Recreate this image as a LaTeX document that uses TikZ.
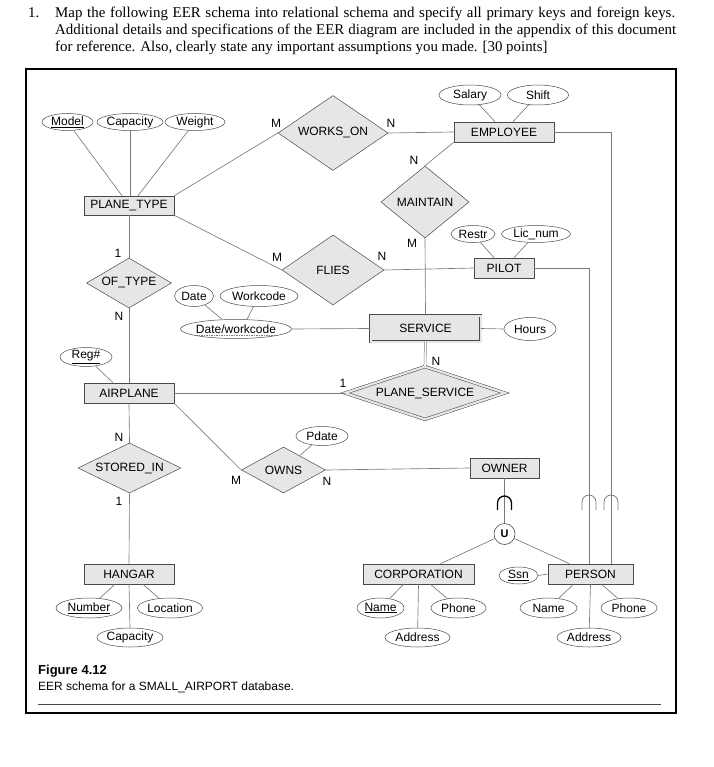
\documentclass[tikz,border=0pt]{standalone}
\usepackage{fontspec}
\setmainfont{Liberation Serif}
\newfontfamily\dia{Liberation Sans}
\usetikzlibrary{shapes.geometric}
\definecolor{lnc}{HTML}{7A7A7A}
\definecolor{bxc}{HTML}{4A4A4A}
\definecolor{fil}{HTML}{E6E6E6}
\newcommand{\zb}[1]{\makebox[0pt]{#1}}
\tikzset{
  every node/.style={font=\dia\fontsize{12}{14}\selectfont, inner sep=0pt},
  ent/.style={rectangle, draw=bxc, fill=fil, line width=0.6pt, minimum height=20pt},
  attr/.style={ellipse, draw=bxc, fill=white, line width=0.5pt},
  rel/.style={diamond, draw=bxc, fill=fil, line width=0.5pt},
  conn/.style={draw=lnc, line width=0.65pt},
  card/.style={font=\dia\fontsize{12}{14}\selectfont},
  subs/.style={draw=lnc, line width=0.8pt},
  hdr/.style={anchor=base west, font=\rmfamily\fontsize{14.9}{17}\selectfont},
}
\begin{document}
\begin{tikzpicture}[x=1pt,y=-1pt]
\useasboundingbox (0,0) rectangle (713,767);
% header
\node[hdr] (h0) at (28,18) {1.};
\node[hdr] (h1) at (55,18) {\makebox[620pt][s]{Map the following EER schema into relational schema and specify all primary keys and foreign keys.}};
\node[hdr] (h2) at (55,35) {\makebox[621pt][s]{Additional details and specifications of the EER diagram are included in the appendix of this document}};
\node[hdr] (h3) at (55,52) {for reference. Also, clearly state any important assumptions you made. [30 points]};
% frame
\draw[line width=1.2pt, black] (26,69) rectangle (676,713);
\draw[line width=0.8pt, bxc] (38,704) -- (661,704);
\node[anchor=base west, font=\dia\bfseries\fontsize{13}{14}\selectfont] (cap) at (38,674) {Figure 4.12};
\node[anchor=base west, font=\dia\fontsize{12}{14}\selectfont] (capt) at (38,690) {EER schema for a SMALL\_AIRPORT database.};

% entities
\node[ent, minimum width=90pt, minimum height=19pt] (pt) at (129,205.5) {\zb{PLANE\_TYPE}};
\node[ent, minimum width=100pt] (emp) at (504,132) {\zb{EMPLOYEE}};
\node[ent, minimum width=60pt] (pilot) at (504,268) {\zb{PILOT}};
\node[ent, minimum width=110pt, minimum height=26pt, double=fil, double distance=2pt, line width=0.5pt] (service) at (425.5,328.5) {\zb{SERVICE}};
\node[ent, minimum width=90pt] (airplane) at (129,393) {\zb{AIRPLANE}};
\node[ent, minimum width=90pt] (hangar) at (129,574) {\zb{HANGAR}};
\node[ent, minimum width=69pt] (owner) at (504.5,468) {\zb{OWNER}};
\node[ent, minimum width=111pt] (corp) at (418.5,574) {\zb{CORPORATION}};
\node[ent, minimum width=85pt] (person) at (590.5,574) {\zb{PERSON}};

% relationships
\node[rel, minimum width=110pt, minimum height=75pt] (works) at (333,133) {\zb{WORKS\_ON}};
\node[rel, minimum width=88pt, minimum height=72pt] (maintain) at (425,202) {\zb{MAINTAIN}};
\node[rel, minimum width=102pt, minimum height=70pt] (flies) at (333,270) {\zb{FLIES}};
\node[rel, minimum width=85pt, minimum height=50pt] (oftype) at (129,283) {\zb{OF\_TYPE}};
\node[rel, minimum width=160pt, minimum height=53pt, double=fil, double distance=2.2pt] (ps) at (425,393) {\zb{PLANE\_SERVICE}};
\node[rel, minimum width=103pt, minimum height=50pt] (stored) at (129.5,468) {\zb{STORED\_IN}};
\node[rel, minimum width=84pt, minimum height=46pt] (owns) at (283.5,470) {\zb{OWNS}};
\node[circle, draw=bxc, fill=white, line width=0.6pt, minimum size=21pt, font=\dia\bfseries\fontsize{11}{12}\selectfont] (u) at (504.5,534) {\zb{U}};

% attributes
\node[attr, minimum width=51pt, minimum height=17pt] (model) at (67.5,122) {\zb{\underline{Model}}};
\node[attr, minimum width=66pt, minimum height=17pt] (cap1) at (130,122) {\zb{Capacity}};
\node[attr, minimum width=60pt, minimum height=17pt] (weight) at (195,122) {\zb{Weight}};
\node[attr, minimum width=62pt, minimum height=20pt] (salary) at (470,95) {\zb{Salary}};
\node[attr, minimum width=61pt, minimum height=20pt] (shift) at (538,95) {\zb{Shift}};
\node[attr, minimum width=44pt, minimum height=17pt] (restr) at (473,234) {\zb{Restr}};
\node[attr, minimum width=69pt, minimum height=17pt] (licnum) at (536,234) {\zb{Lic\_num}};
\node[attr, minimum width=39pt, minimum height=21pt] (date) at (194,296) {\zb{Date}};
\node[attr, minimum width=78pt, minimum height=21pt] (workcode) at (259,296) {\zb{Workcode}};
\node[attr, minimum width=111pt, minimum height=19pt] (dw) at (236,329) {\zb{Date/workcode}};
\node[attr, minimum width=52pt, minimum height=23pt] (hours) at (530,329) {\zb{Hours}};
\node[attr, minimum width=52pt, minimum height=19pt] (reg) at (86,357) {\zb{\underline{Reg\#}}};
\node[attr, minimum width=66pt, minimum height=20pt] (number) at (89,608) {\zb{\underline{Number}}};
\node[attr, minimum width=65pt, minimum height=20pt] (location) at (170,608) {\zb{Location}};
\node[attr, minimum width=66pt, minimum height=19pt] (cap2) at (130,637.5) {\zb{Capacity}};
\node[attr, minimum width=52pt, minimum height=19pt] (pdate) at (322,436) {\zb{Pdate}};
\node[attr, minimum width=39pt, minimum height=17pt] (ssn) at (518.5,575.5) {\zb{\underline{Ssn}}};
\node[attr, minimum width=47pt, minimum height=20pt] (cname) at (380.5,608) {\zb{\underline{Name}}};
\node[attr, minimum width=55pt, minimum height=20pt] (cphone) at (458.5,608) {\zb{Phone}};
\node[attr, minimum width=65pt, minimum height=19pt] (caddr) at (417.5,637.5) {\zb{Address}};
\node[attr, minimum width=57pt, minimum height=20pt] (pname) at (548.5,608) {\zb{Name}};
\node[attr, minimum width=56pt, minimum height=20pt] (pphone) at (629,608) {\zb{Phone}};
\node[attr, minimum width=64pt, minimum height=19pt] (paddr) at (589,637.5) {\zb{Address}};
% dashed underline of partial key
\draw[lnc, dash pattern=on 1.5pt off 1pt, line width=0.6pt] ([xshift=-40pt,yshift=-6.5pt]dw.center) -- ([xshift=40pt,yshift=-6.5pt]dw.center);

% connectors
\coordinate (e1) at (611,132);
\coordinate (p1) at (589,268);
\draw[conn] (model) -- ([xshift=-7pt]pt.north);
\draw[conn] (cap1) -- (cap1 |- pt.north);
\draw[conn] (weight) -- ([xshift=9pt]pt.north);
\draw[conn] (pt.north east) -- (works.west);
\draw[conn] (works.east) -- (emp.west);
\draw[conn] (salary) -- ([xshift=-9pt]emp.north);
\draw[conn] (shift) -- ([xshift=9pt]emp.north);
\draw[conn] (emp.south west) -- (maintain.north);
\draw[conn] (emp.east) -- (e1) -- (e1 |- person.north);
\draw[conn] (pilot.east) -- (p1) -- (p1 |- person.north);
\draw[conn] (maintain.south) -- (service.north);
\draw[conn] (flies.east) -- (pilot.west);
\draw[conn] (pt.south east) -- (flies.west);
\draw[conn] (restr) -- ([xshift=-10pt]pilot.north);
\draw[conn] (licnum) -- ([xshift=10pt]pilot.north);
\draw[conn] (pt.south) -- (oftype.north);
\draw[conn] (oftype.south) -- (airplane.north);
\draw[conn] (date) -- ([xshift=-14pt]dw.north);
\draw[conn] (workcode) -- ([xshift=11pt]dw.north);
\draw[conn] (dw.east) -- (service.west);
\draw[conn] (service.east) -- (hours.west);
\draw[conn, double=white, double distance=1.6pt, line width=0.5pt] (service.south) -- (ps.north);
\draw[conn] (airplane.east) -- (ps.west);
\draw[conn] (reg) -- ([xshift=-16pt]airplane.north);
\draw[conn] (airplane.south) -- (stored.north);
\draw[conn] (stored.south) -- (hangar.north);
\draw[conn] (airplane.south east) -- (owns.west);
\draw[conn] (owns.east) -- (owner.west);
\draw[conn] (pdate) -- (owns);
\draw[conn] (owner.south) -- (u.north);
\draw[conn] (u) -- ([xshift=22pt]corp.north);
\draw[conn] (u) -- ([xshift=-21pt]person.north);
\draw[conn] (ssn.east) -- (person.west);
\draw[conn] ([xshift=-14pt]hangar.south) -- (number);
\draw[conn] ([xshift=14pt]hangar.south) -- (location);
\draw[conn] (hangar.south) -- (cap2.north);
\draw[conn] ([xshift=-15pt]corp.south) -- (cname);
\draw[conn] ([xshift=12pt]corp.south) -- (cphone);
\draw[conn] (corp.south) -- (caddr);
\draw[conn] ([xshift=-17pt]person.south) -- (pname);
\draw[conn] ([xshift=11pt]person.south) -- (pphone);
\draw[conn] (person.south) -- (paddr);

% subset symbols
\draw[subs] (582,510) -- (582,502) arc[start angle=180, end angle=360, radius=7] -- (596,510);
\draw[subs] (604,510) -- (604,502) arc[start angle=180, end angle=360, radius=7] -- (618,510);
\draw[black, line width=1.3pt] (497.5,510) -- (497.5,503) arc[start angle=180, end angle=360, radius=7] -- (511.5,510);

% cardinalities
\node[card] (c1) at (276,123) {M};
\node[card] (c2) at (391,123) {N};
\node[card] (c3) at (414,160) {N};
\node[card] (c4) at (412,243) {M};
\node[card] (c5) at (277,257) {M};
\node[card] (c6) at (382,256) {N};
\node[card] (c7) at (118,253) {1};
\node[card] (c8) at (119,316) {N};
\node[card] (c9) at (436,361) {N};
\node[card] (c10) at (343,383) {1};
\node[card] (c11) at (119,437) {N};
\node[card] (c12) at (119,501) {1};
\node[card] (c13) at (236,480) {M};
\node[card] (c14) at (327,481) {N};
\end{tikzpicture}
\end{document}
